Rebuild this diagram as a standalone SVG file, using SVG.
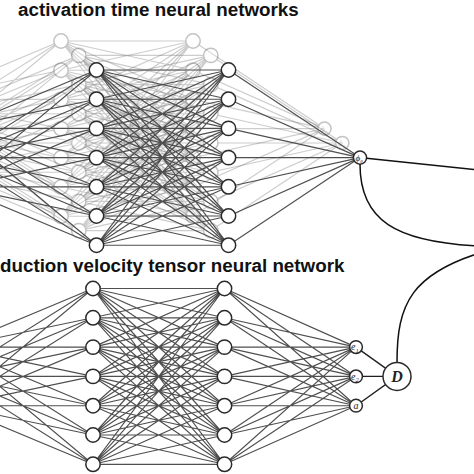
<svg xmlns="http://www.w3.org/2000/svg" xmlns:xlink="http://www.w3.org/1999/xlink" width="474" height="474" viewBox="0 0 474 474">
<style>
.edge{fill:none;stroke:#4f4f4f;stroke-width:1.15}
.link{fill:none;stroke:#1e1e1e;stroke-width:1.3}
.curve{fill:none;stroke:#111;stroke-width:1.5}
.node{fill:#fff;stroke:#2a2a2a;stroke-width:1.5}
.title{font-family:"Liberation Sans",Arial,Helvetica,sans-serif;font-weight:bold;font-size:18.8px;fill:#111}
.lbl{font-family:"Liberation Serif","Times New Roman",serif;font-style:italic;fill:#222}
</style>
<rect width="474" height="474" fill="#fff"/>
<text class="title" x="18" y="15.5">activation time neural networks</text>
<text class="title" x="0" y="272">duction velocity tensor neural network</text>

<use href="#at-net" xlink:href="#at-net" transform="translate(-35.5,-29)" opacity="0.28"/>
<use href="#at-net" xlink:href="#at-net" transform="translate(-17.7,-14.6)" opacity="0.28"/>

<g id="at-net">
<g id="at-connectors">
<path class="edge" d="M-43 128.4L96.5 70M-43 128.4L96.5 99.2M-43 128.4L96.5 128.4M-43 128.4L96.5 157.6M-43 128.4L96.5 186.8M-43 128.4L96.5 216M-43 128.4L96.5 245.2
M-43 157.6L96.5 70M-43 157.6L96.5 99.2M-43 157.6L96.5 128.4M-43 157.6L96.5 157.6M-43 157.6L96.5 186.8M-43 157.6L96.5 216M-43 157.6L96.5 245.2
M-43 186.8L96.5 70M-43 186.8L96.5 99.2M-43 186.8L96.5 128.4M-43 186.8L96.5 157.6M-43 186.8L96.5 186.8M-43 186.8L96.5 216M-43 186.8L96.5 245.2"/>
<path class="edge" d="M96.5 70L228.5 70M96.5 70L228.5 99.2M96.5 70L228.5 128.4M96.5 70L228.5 157.6M96.5 70L228.5 186.8M96.5 70L228.5 216M96.5 70L228.5 245.2
M96.5 99.2L228.5 70M96.5 99.2L228.5 99.2M96.5 99.2L228.5 128.4M96.5 99.2L228.5 157.6M96.5 99.2L228.5 186.8M96.5 99.2L228.5 216M96.5 99.2L228.5 245.2
M96.5 128.4L228.5 70M96.5 128.4L228.5 99.2M96.5 128.4L228.5 128.4M96.5 128.4L228.5 157.6M96.5 128.4L228.5 186.8M96.5 128.4L228.5 216M96.5 128.4L228.5 245.2
M96.5 157.6L228.5 70M96.5 157.6L228.5 99.2M96.5 157.6L228.5 128.4M96.5 157.6L228.5 157.6M96.5 157.6L228.5 186.8M96.5 157.6L228.5 216M96.5 157.6L228.5 245.2
M96.5 186.8L228.5 70M96.5 186.8L228.5 99.2M96.5 186.8L228.5 128.4M96.5 186.8L228.5 157.6M96.5 186.8L228.5 186.8M96.5 186.8L228.5 216M96.5 186.8L228.5 245.2
M96.5 216L228.5 70M96.5 216L228.5 99.2M96.5 216L228.5 128.4M96.5 216L228.5 157.6M96.5 216L228.5 186.8M96.5 216L228.5 216M96.5 216L228.5 245.2
M96.5 245.2L228.5 70M96.5 245.2L228.5 99.2M96.5 245.2L228.5 128.4M96.5 245.2L228.5 157.6M96.5 245.2L228.5 186.8M96.5 245.2L228.5 216M96.5 245.2L228.5 245.2"/>
<path class="edge" d="M228.5 70L360 157.6M228.5 99.2L360 157.6M228.5 128.4L360 157.6M228.5 157.6L360 157.6M228.5 186.8L360 157.6M228.5 216L360 157.6M228.5 245.2L360 157.6"/>
</g>
<g id="at-nodes">
<g id="at-h1-1"><circle class="node" cx="96.5" cy="70" r="7.2"/></g>
<g id="at-h1-2"><circle class="node" cx="96.5" cy="99.2" r="7.2"/></g>
<g id="at-h1-3"><circle class="node" cx="96.5" cy="128.4" r="7.2"/></g>
<g id="at-h1-4"><circle class="node" cx="96.5" cy="157.6" r="7.2"/></g>
<g id="at-h1-5"><circle class="node" cx="96.5" cy="186.8" r="7.2"/></g>
<g id="at-h1-6"><circle class="node" cx="96.5" cy="216" r="7.2"/></g>
<g id="at-h1-7"><circle class="node" cx="96.5" cy="245.2" r="7.2"/></g>
<g id="at-h2-1"><circle class="node" cx="228.5" cy="70" r="7.2"/></g>
<g id="at-h2-2"><circle class="node" cx="228.5" cy="99.2" r="7.2"/></g>
<g id="at-h2-3"><circle class="node" cx="228.5" cy="128.4" r="7.2"/></g>
<g id="at-h2-4"><circle class="node" cx="228.5" cy="157.6" r="7.2"/></g>
<g id="at-h2-5"><circle class="node" cx="228.5" cy="186.8" r="7.2"/></g>
<g id="at-h2-6"><circle class="node" cx="228.5" cy="216" r="7.2"/></g>
<g id="at-h2-7"><circle class="node" cx="228.5" cy="245.2" r="7.2"/></g>
<g id="at-phi"><circle class="node" cx="360" cy="157.6" r="6.6"/>
<text class="lbl" x="355.6" y="160.6" font-size="9">ϕ<tspan font-size="5" dy="2">θ</tspan></text></g>
</g>
</g>

<g id="cv-connectors">
<path class="edge" d="M-47 347.1L93 288.5M-47 347.1L93 317.8M-47 347.1L93 347.1M-47 347.1L93 376.4M-47 347.1L93 405.7M-47 347.1L93 435M-47 347.1L93 464.3
M-47 376.4L93 288.5M-47 376.4L93 317.8M-47 376.4L93 347.1M-47 376.4L93 376.4M-47 376.4L93 405.7M-47 376.4L93 435M-47 376.4L93 464.3
M-47 405.7L93 288.5M-47 405.7L93 317.8M-47 405.7L93 347.1M-47 405.7L93 376.4M-47 405.7L93 405.7M-47 405.7L93 435M-47 405.7L93 464.3"/>
<path class="edge" d="M93 288.5L224.5 288.5M93 288.5L224.5 317.8M93 288.5L224.5 347.1M93 288.5L224.5 376.4M93 288.5L224.5 405.7M93 288.5L224.5 435M93 288.5L224.5 464.3
M93 317.8L224.5 288.5M93 317.8L224.5 317.8M93 317.8L224.5 347.1M93 317.8L224.5 376.4M93 317.8L224.5 405.7M93 317.8L224.5 435M93 317.8L224.5 464.3
M93 347.1L224.5 288.5M93 347.1L224.5 317.8M93 347.1L224.5 347.1M93 347.1L224.5 376.4M93 347.1L224.5 405.7M93 347.1L224.5 435M93 347.1L224.5 464.3
M93 376.4L224.5 288.5M93 376.4L224.5 317.8M93 376.4L224.5 347.1M93 376.4L224.5 376.4M93 376.4L224.5 405.7M93 376.4L224.5 435M93 376.4L224.5 464.3
M93 405.7L224.5 288.5M93 405.7L224.5 317.8M93 405.7L224.5 347.1M93 405.7L224.5 376.4M93 405.7L224.5 405.7M93 405.7L224.5 435M93 405.7L224.5 464.3
M93 435L224.5 288.5M93 435L224.5 317.8M93 435L224.5 347.1M93 435L224.5 376.4M93 435L224.5 405.7M93 435L224.5 435M93 435L224.5 464.3
M93 464.3L224.5 288.5M93 464.3L224.5 317.8M93 464.3L224.5 347.1M93 464.3L224.5 376.4M93 464.3L224.5 405.7M93 464.3L224.5 435M93 464.3L224.5 464.3"/>
<path class="edge" d="M224.5 288.5L356 347.1M224.5 317.8L356 347.1M224.5 347.1L356 347.1M224.5 376.4L356 347.1M224.5 405.7L356 347.1M224.5 435L356 347.1M224.5 464.3L356 347.1
M224.5 288.5L356 376.4M224.5 317.8L356 376.4M224.5 347.1L356 376.4M224.5 376.4L356 376.4M224.5 405.7L356 376.4M224.5 435L356 376.4M224.5 464.3L356 376.4
M224.5 288.5L356 405.7M224.5 317.8L356 405.7M224.5 347.1L356 405.7M224.5 376.4L356 405.7M224.5 405.7L356 405.7M224.5 435L356 405.7M224.5 464.3L356 405.7"/>
<path class="link" d="M356 347.1L397 376.4M356 376.4L397 376.4M356 405.7L397 376.4"/>
</g>

<g id="out-connectors">
<path class="curve" d="M366.5 158.3L490 171.3"/>
<path class="curve" d="M360 164.2C360 220 395 242 480 246"/>
<path class="curve" d="M397 362.4C397 305 410 272 490 250"/>
</g>

<g id="cv-nodes">
<g id="cv-h1-1"><circle class="node" cx="93" cy="288.5" r="7.2"/></g>
<g id="cv-h1-2"><circle class="node" cx="93" cy="317.8" r="7.2"/></g>
<g id="cv-h1-3"><circle class="node" cx="93" cy="347.1" r="7.2"/></g>
<g id="cv-h1-4"><circle class="node" cx="93" cy="376.4" r="7.2"/></g>
<g id="cv-h1-5"><circle class="node" cx="93" cy="405.7" r="7.2"/></g>
<g id="cv-h1-6"><circle class="node" cx="93" cy="435" r="7.2"/></g>
<g id="cv-h1-7"><circle class="node" cx="93" cy="464.3" r="7.2"/></g>
<g id="cv-h2-1"><circle class="node" cx="224.5" cy="288.5" r="7.2"/></g>
<g id="cv-h2-2"><circle class="node" cx="224.5" cy="317.8" r="7.2"/></g>
<g id="cv-h2-3"><circle class="node" cx="224.5" cy="347.1" r="7.2"/></g>
<g id="cv-h2-4"><circle class="node" cx="224.5" cy="376.4" r="7.2"/></g>
<g id="cv-h2-5"><circle class="node" cx="224.5" cy="405.7" r="7.2"/></g>
<g id="cv-h2-6"><circle class="node" cx="224.5" cy="435" r="7.2"/></g>
<g id="cv-h2-7"><circle class="node" cx="224.5" cy="464.3" r="7.2"/></g>
<g id="cv-e1"><circle class="node" cx="356" cy="347.1" r="6.4"/>
<text class="lbl" x="351" y="350.3" font-size="10">e<tspan font-size="6.5" dy="2.4">1</tspan></text></g>
<g id="cv-e2"><circle class="node" cx="356" cy="376.4" r="6.4"/>
<text class="lbl" x="351" y="379.6" font-size="10">e<tspan font-size="6.5" dy="2.4">2</tspan></text></g>
<g id="cv-a"><circle class="node" cx="356" cy="405.7" r="6.4"/>
<text class="lbl" x="356" y="408.9" font-size="10" text-anchor="middle">a</text></g>
<g id="cv-D"><circle class="node" cx="397" cy="376.4" r="14"/>
<text class="lbl" x="397" y="382" font-size="16" font-weight="bold" text-anchor="middle">D</text></g>
</g>
</svg>
